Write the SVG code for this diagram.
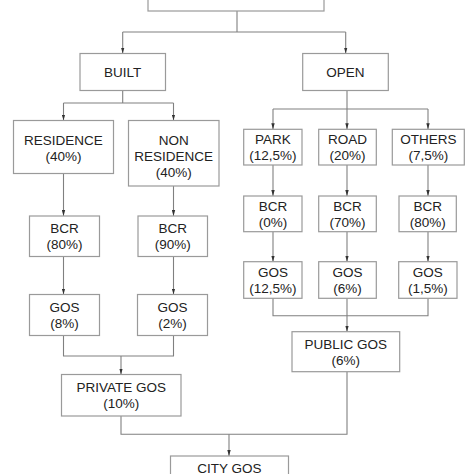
<svg xmlns="http://www.w3.org/2000/svg" width="474" height="474" viewBox="0 0 474 474">
<style>
.box{fill:#fff;stroke:#9a9a9a;stroke-width:1.2}
.t{font-family:"Liberation Sans",Arial,sans-serif;font-size:13.5px;fill:#222;text-anchor:middle}
.c{fill:none;stroke:#808080;stroke-width:1.1}
.a{fill:none;stroke:#808080;stroke-width:1.1;marker-end:url(#ah)}
</style>
<defs>
<marker id="ah" markerWidth="6" markerHeight="4" refX="6" refY="2" orient="auto" markerUnits="userSpaceOnUse" viewBox="0 0 6 4">
<path d="M0,0.3 L6,2 L0,3.7 Z" fill="#333"/>
</marker>
</defs>
<rect width="474" height="474" fill="#fff"/>
<g id="connectors">
<path class="c" d="M237,11 V32 M122.7,32 H345.7"/>
<path class="a" d="M122.7,32 V53.5"/>
<path class="a" d="M345.7,32 V53.5"/>
<path class="c" d="M122.7,90.5 V103 M63.5,103 H173.5"/>
<path class="a" d="M63.5,103 V120.5"/>
<path class="a" d="M173.5,103 V120.5"/>
<path class="c" d="M347,90.5 V109 M273,109 H428"/>
<path class="a" d="M273,109 V129.3"/>
<path class="a" d="M347,109 V129.3"/>
<path class="a" d="M428,109 V129.3"/>
<path class="a" d="M63.5,173.5 V216"/>
<path class="a" d="M63.5,256.5 V294.5"/>
<path class="a" d="M173.5,186 V216"/>
<path class="a" d="M173.5,256.5 V294.5"/>
<path class="a" d="M273,165 V196"/>
<path class="a" d="M273,231.7 V261.7"/>
<path class="a" d="M347,165 V196"/>
<path class="a" d="M347,231.7 V261.7"/>
<path class="a" d="M428,165 V196"/>
<path class="a" d="M428,231.7 V261.7"/>
<path class="c" d="M63.5,335.5 V356 H173.5 V335.5"/>
<path class="a" d="M121,356 V374.5"/>
<path class="c" d="M273,298.3 V315.7 H428 V298.3"/>
<path class="a" d="M347,298.3 V331.7"/>
<path class="c" d="M121,416 V434.3 H347 V371.7"/>
<path class="a" d="M229,434.3 V456"/>
</g>
<g id="top"><rect class="box" x="148" y="-20" width="176" height="31"/></g>
<g id="built"><rect class="box" x="80" y="53.5" width="85.5" height="37"/><text class="t" x="122.7" y="77">BUILT</text></g>
<g id="open"><rect class="box" x="302.7" y="53.5" width="85.6" height="37"/><text class="t" x="345.5" y="77">OPEN</text></g>
<g id="residence"><rect class="box" x="13.5" y="120.5" width="100" height="53"/><text class="t" x="63.5" y="144.5">RESIDENCE</text><text class="t" x="63.5" y="160.5">(40%)</text></g>
<g id="nonresidence"><rect class="box" x="128.5" y="120.5" width="90.5" height="65.5"/><text class="t" x="173.7" y="144.5">NON</text><text class="t" x="173.7" y="160.5">RESIDENCE</text><text class="t" x="173.7" y="176.5">(40%)</text></g>
<g id="bcr-res"><rect class="box" x="29.5" y="216" width="70" height="40.5"/><text class="t" x="64.5" y="232.5">BCR</text><text class="t" x="64.5" y="248.5">(80%)</text></g>
<g id="bcr-nonres"><rect class="box" x="138" y="216" width="69.5" height="40.5"/><text class="t" x="172.8" y="232.5">BCR</text><text class="t" x="172.8" y="248.5">(90%)</text></g>
<g id="gos-res"><rect class="box" x="29.5" y="294.5" width="70" height="41"/><text class="t" x="64.5" y="312">GOS</text><text class="t" x="64.5" y="328">(8%)</text></g>
<g id="gos-nonres"><rect class="box" x="137.5" y="294.5" width="70" height="41"/><text class="t" x="172.5" y="312">GOS</text><text class="t" x="172.5" y="328">(2%)</text></g>
<g id="private-gos"><rect class="box" x="61.5" y="374.5" width="119.5" height="41.5"/><text class="t" x="121.3" y="392">PRIVATE GOS</text><text class="t" x="121.3" y="408">(10%)</text></g>
<g id="park"><rect class="box" x="243.7" y="129.3" width="58.3" height="35.7"/><text class="t" x="272.9" y="144">PARK</text><text class="t" x="272.9" y="160">(12,5%)</text></g>
<g id="road"><rect class="box" x="318.7" y="129.3" width="57.6" height="35.7"/><text class="t" x="347.5" y="144">ROAD</text><text class="t" x="347.5" y="160">(20%)</text></g>
<g id="others"><rect class="box" x="392.3" y="129.3" width="72" height="35.7"/><text class="t" x="428.3" y="144">OTHERS</text><text class="t" x="428.3" y="160">(7,5%)</text></g>
<g id="bcr-park"><rect class="box" x="243.7" y="196" width="58.3" height="35.7"/><text class="t" x="272.9" y="211">BCR</text><text class="t" x="272.9" y="227">(0%)</text></g>
<g id="bcr-road"><rect class="box" x="318.7" y="196" width="57.6" height="35.7"/><text class="t" x="347.5" y="211">BCR</text><text class="t" x="347.5" y="227">(70%)</text></g>
<g id="bcr-others"><rect class="box" x="399" y="196" width="57.3" height="35.7"/><text class="t" x="427.7" y="211">BCR</text><text class="t" x="427.7" y="227">(80%)</text></g>
<g id="gos-park"><rect class="box" x="243.7" y="261.7" width="58.3" height="36.6"/><text class="t" x="272.9" y="277">GOS</text><text class="t" x="272.9" y="293">(12,5%)</text></g>
<g id="gos-road"><rect class="box" x="318.7" y="261.7" width="57.6" height="36.6"/><text class="t" x="347.5" y="277">GOS</text><text class="t" x="347.5" y="293">(6%)</text></g>
<g id="gos-others"><rect class="box" x="398.7" y="261.7" width="58.3" height="36.6"/><text class="t" x="427.8" y="277">GOS</text><text class="t" x="427.8" y="293">(1,5%)</text></g>
<g id="public-gos"><rect class="box" x="292" y="331.7" width="107.7" height="40"/><text class="t" x="345.8" y="348.5">PUBLIC GOS</text><text class="t" x="345.8" y="364.5">(6%)</text></g>
<g id="city-gos"><rect class="box" x="170.5" y="456" width="118" height="30"/><text class="t" x="229.5" y="472.5">CITY GOS</text></g>
</svg>
